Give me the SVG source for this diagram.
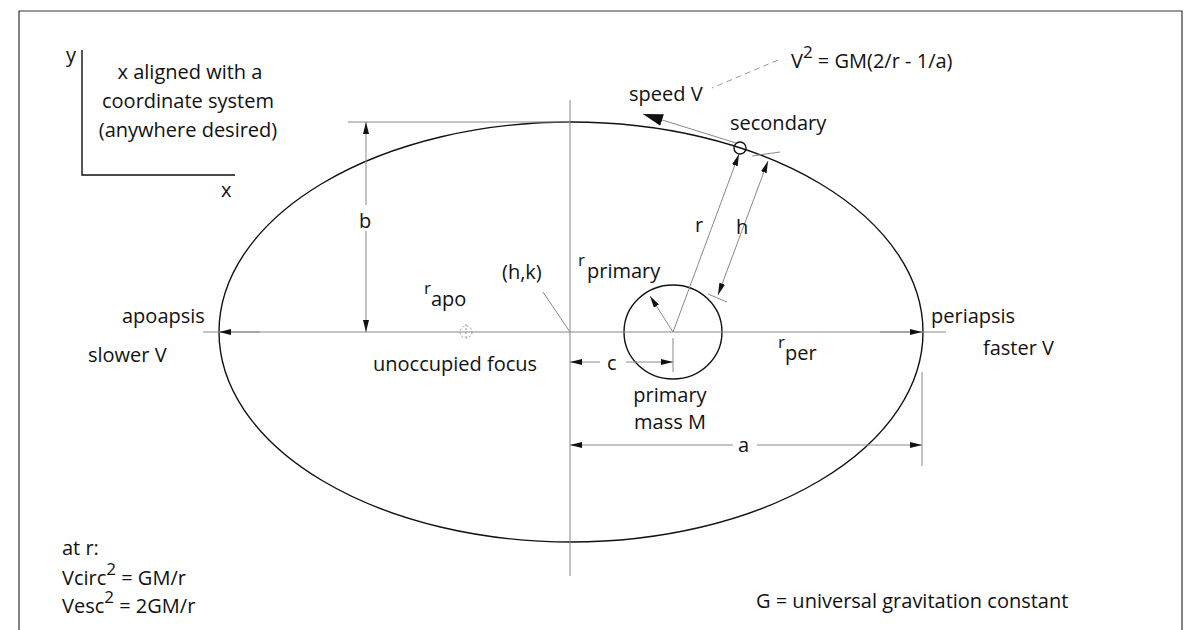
<svg xmlns="http://www.w3.org/2000/svg" width="1200" height="630" viewBox="0 0 1200 630">
<defs>
<style>
text{font-family:"Open Sans","Liberation Sans",sans-serif;font-size:20px;fill:#111}
.thin{stroke:#888;stroke-width:1;fill:none}
.blk{stroke:#111;stroke-width:1.4;fill:none}
.sup{font-size:17px}
</style>
<marker id="ah" viewBox="0 0 12 6" refX="12" refY="3" markerWidth="12" markerHeight="6" markerUnits="userSpaceOnUse" orient="auto-start-reverse"><path d="M0,0 L12,3 L0,6 z" fill="#111"/></marker>
<marker id="ahb" viewBox="0 0 20 12" refX="20" refY="6" markerWidth="20" markerHeight="12" markerUnits="userSpaceOnUse" orient="auto"><path d="M0,0 L20,6 L0,12 z" fill="#111"/></marker>
</defs>
<rect width="1200" height="630" fill="#fff"/>
<path d="M19,640 V11 H1182 V640" stroke="#333" stroke-width="1.2" fill="none"/>
<g id="axes">
<path d="M82,50 V175 H235" class="blk"/>
<text x="66" y="62">y</text>
<text x="221" y="197">x</text>
<text x="190" y="79" text-anchor="middle">x aligned with a</text>
<text x="188" y="108" text-anchor="middle">coordinate system</text>
<text x="188" y="137" text-anchor="middle">(anywhere desired)</text>
</g>
<g id="orbit"><ellipse cx="571" cy="332" rx="352" ry="210" class="blk"/></g>
<g id="primary"><ellipse cx="673" cy="332" rx="49" ry="47" class="blk"/>
<text x="670" y="402" text-anchor="middle">primary</text><text x="670" y="429" text-anchor="middle">mass M</text></g>
<g id="secondary"><circle cx="740" cy="148" r="6" class="blk"/><text x="730" y="130">secondary</text></g>
<g id="focus"><circle cx="466" cy="332" r="6" stroke="#999" stroke-dasharray="2,2" fill="none"/><line x1="466" y1="324" x2="466" y2="340" stroke="#999" stroke-dasharray="2,2"/>
<text x="373" y="371">unoccupied focus</text></g>
<g id="connectors">
<line x1="570" y1="100" x2="570" y2="576" class="thin"/>
<line x1="203" y1="332" x2="946" y2="332" class="thin"/>
<line x1="260" y1="332" x2="219" y2="332" class="thin" marker-end="url(#ah)"/>
<line x1="880" y1="332" x2="922" y2="332" class="thin" marker-end="url(#ah)"/>
<line x1="348" y1="122" x2="570" y2="122" class="thin"/>
<line x1="366" y1="122" x2="366" y2="332" class="thin" marker-start="url(#ah)" marker-end="url(#ah)"/>
<line x1="570" y1="362" x2="673" y2="362" class="thin" marker-start="url(#ah)" marker-end="url(#ah)"/>
<line x1="673" y1="338" x2="673" y2="372" class="thin"/>
<line x1="570" y1="445" x2="922" y2="445" class="thin" marker-start="url(#ah)" marker-end="url(#ah)"/>
<line x1="922" y1="372" x2="922" y2="466" class="thin"/>
<line x1="673" y1="332" x2="739" y2="154" class="thin" marker-end="url(#ah)"/>
<line x1="673" y1="332" x2="650" y2="296" class="thin" marker-end="url(#ah)"/>
<line x1="718" y1="295" x2="768" y2="161" class="thin" marker-start="url(#ah)" marker-end="url(#ah)"/>
<line x1="752" y1="156" x2="780" y2="152" class="thin"/>
<line x1="708" y1="294" x2="727" y2="302" class="thin"/>
<line x1="736" y1="143" x2="643" y2="114" class="thin"/>
<line x1="690" y1="129" x2="643" y2="114" stroke="none" marker-end="url(#ahb)"/>
<line x1="543" y1="292" x2="570" y2="332" class="thin"/>
<line x1="778" y1="60" x2="712" y2="88" stroke="#999" stroke-dasharray="6,4"/>
</g>
<g id="labels">
<rect x="600" y="352" width="26" height="20" fill="#fff"/>
<text x="607" y="370">c</text>
<rect x="733" y="435" width="24" height="20" fill="#fff"/>
<text x="738" y="452">a</text>
<rect x="356" y="205" width="20" height="26" fill="#fff"/>
<text x="359" y="228">b</text>
<text x="695" y="232">r</text>
<text x="736" y="234">h</text>
<text x="578" y="266" class="sup">r</text><text x="587" y="278">primary</text>
<text x="424" y="294" class="sup">r</text><text x="431" y="306">apo</text>
<text x="778" y="348" class="sup">r</text><text x="785" y="360">per</text>
<text x="502" y="279">(h,k)</text>
<text x="122" y="323">apoapsis</text>
<text x="88" y="362">slower V</text>
<text x="931" y="323">periapsis</text>
<text x="983" y="355">faster V</text>
<text x="629" y="101">speed V</text>
<text x="791" y="68">V<tspan dy="-10" class="sup">2</tspan><tspan dy="10"> = GM(2/r - 1/a)</tspan></text>
<text x="62" y="555">at r:</text>
<text x="62" y="585">Vcirc<tspan dy="-10" class="sup">2</tspan><tspan dy="10"> = GM/r</tspan></text>
<text x="62" y="613">Vesc<tspan dy="-10" class="sup">2</tspan><tspan dy="10"> = 2GM/r</tspan></text>
<text x="756" y="608">G = universal gravitation constant</text>
</g>
</svg>
